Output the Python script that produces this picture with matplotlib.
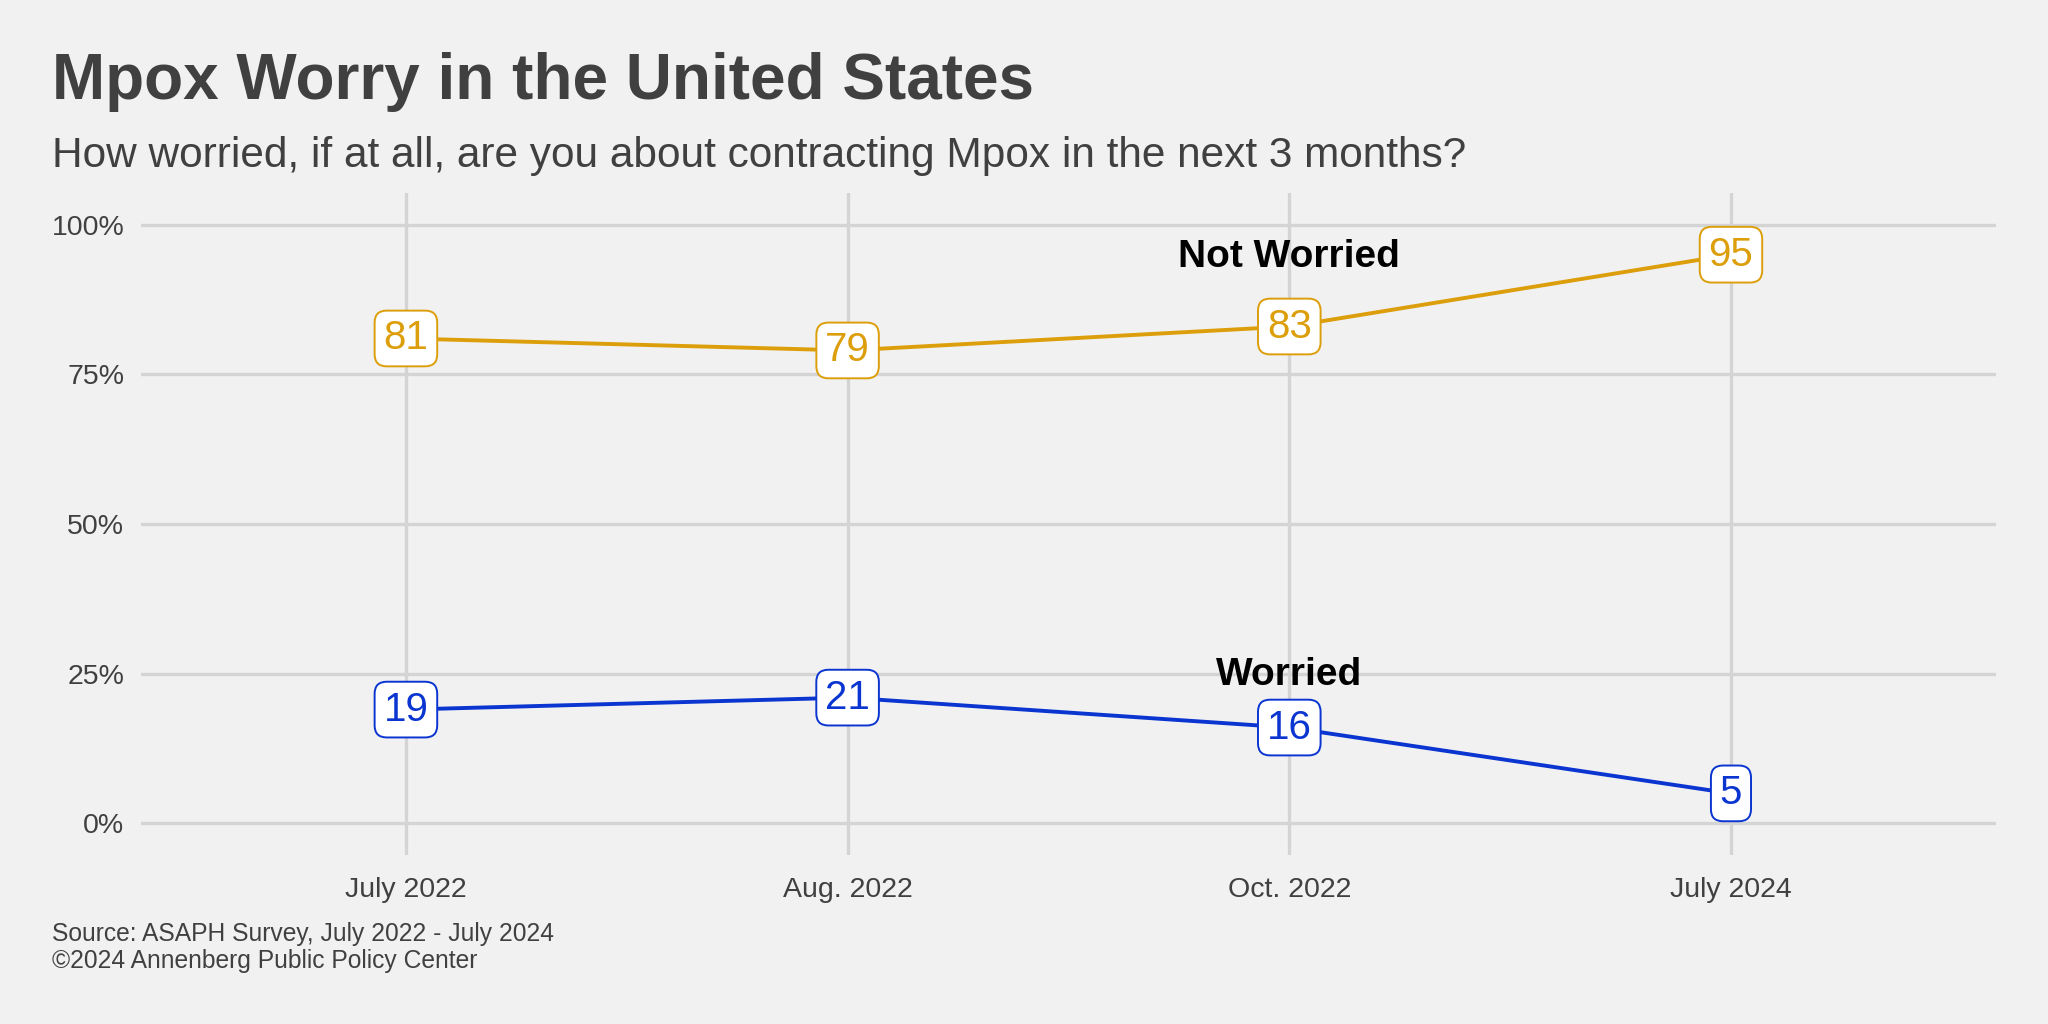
import matplotlib.pyplot as plt

plt.rcParams['font.family'] = ['Liberation Sans', 'DejaVu Sans']

waves = ["July 2022", "Aug. 2022", "Oct. 2022", "July 2024"]
not_worried = [81, 79, 83, 95]
worried = [19, 21, 16, 5]
y_ticks = [0, 25, 50, 75, 100]
y_labels = ["0%", "25%", "50%", "75%", "100%"]

bg = "#F1F1F1"
grid_col = "#D4D4D4"
text_col = "#404040"
orange = "#DC9E0A"
blue = "#0B35D0"

fig = plt.figure(figsize=(20.48, 10.24), dpi=100, facecolor=bg)
ax = fig.add_axes([0.0688, 0.165, 0.9058, 0.6465], facecolor=bg)

x = list(range(1, len(waves) + 1))

for vals, col in [(not_worried, orange), (worried, blue)]:
    ax.plot(x, vals, color=col, lw=2.8, zorder=3, solid_capstyle='butt')
    for xi, v in zip(x, vals):
        ax.text(xi, v, str(v), ha='center', va='center', fontsize=29, color=col, zorder=4,
                bbox=dict(boxstyle='round,pad=0.22,rounding_size=0.3', fc='white', ec=col, lw=1.4))

ax.text(3, 94.6, "Not Worried", ha='center', va='center', fontsize=28, fontweight='bold', color='black', zorder=5)
ax.text(3, 24.8, "Worried", ha='center', va='center', fontsize=28, fontweight='bold', color='black', zorder=5)

ax.set_xlim(0.4, 4.6)
ax.set_ylim(-5.3, 105.3)
ax.set_xticks(x)
ax.set_xticklabels(waves)
ax.set_yticks(y_ticks)
ax.set_yticklabels(y_labels)
ax.grid(True, color=grid_col, lw=2.4, zorder=0)
ax.set_axisbelow(True)
for s in ax.spines.values():
    s.set_visible(False)
ax.tick_params(length=0, labelsize=20.5, labelcolor=text_col)
ax.tick_params(axis='x', pad=16)
ax.tick_params(axis='y', pad=12)

fig.text(0.0255, 0.92, "Mpox Worry in the United States", fontsize=46, fontweight='bold', color=text_col, va='center')
fig.text(0.0255, 0.848, "How worried, if at all, are you about contracting Mpox in the next 3 months?",
         fontsize=30.5, color=text_col, va='center')
fig.text(0.0255, 0.088, "Source: ASAPH Survey, July 2022 - July 2024", fontsize=17.7, color=text_col, va='center')
fig.text(0.0255, 0.062, "\u00a92024 Annenberg Public Policy Center", fontsize=17.7, color=text_col, va='center')

fig.savefig("out.png", dpi=100, facecolor=bg)
